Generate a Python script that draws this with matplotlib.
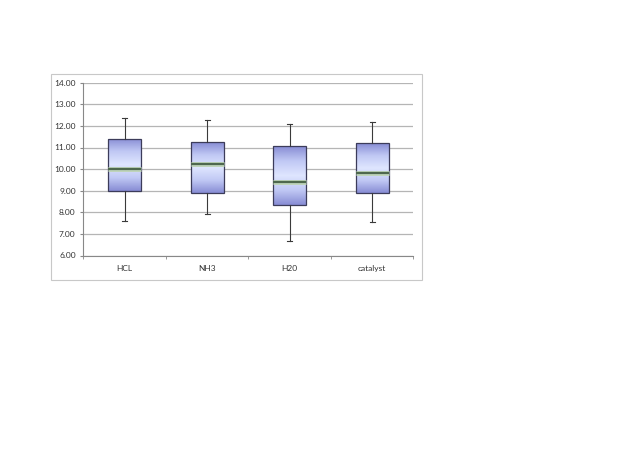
import numpy as np
import matplotlib
matplotlib.use("Agg")
import matplotlib.pyplot as plt
from matplotlib.patches import Rectangle
from matplotlib.colors import LinearSegmentedColormap
from matplotlib import patheffects

# values
categories = ["HCL", "NH3", "H20", "catalyst"]
whisker_low = [7.60, 7.92, 6.67, 7.54]
q1 = [8.97, 8.91, 8.34, 8.91]
median = [10.00, 10.25, 9.40, 9.82]
q3 = [11.38, 11.25, 11.06, 11.19]
whisker_high = [12.38, 12.26, 12.07, 12.20]

plt.rcParams['font.family'] = ['Lato', 'DejaVu Sans']

fig = plt.figure(figsize=(6.38, 4.51), dpi=100)
fig.patches.append(Rectangle((51 / 638, 1 - 280 / 451), 370.5 / 638, 206.3 / 451,
                             transform=fig.transFigure, fill=False,
                             edgecolor="#c8c8c8", linewidth=0.8))
ax = fig.add_axes([83.3 / 638, 1 - 255.5 / 451, 330 / 638, 172.8 / 451])

stats = []
for i, c in enumerate(categories):
    stats.append(dict(label=c, whislo=whisker_low[i], q1=q1[i], med=median[i],
                      q3=q3[i], whishi=whisker_high[i], fliers=[]))

pos = np.arange(1, len(categories) + 1)
bp = ax.bxp(stats, positions=pos, widths=0.4, patch_artist=True, capwidths=0.06,
            boxprops=dict(facecolor="none", edgecolor="#3c3c5a", linewidth=0.9),
            whiskerprops=dict(color="#3a3a3a", linewidth=0.8),
            capprops=dict(color="#3a3a3a", linewidth=0.8),
            medianprops=dict(color="#4e684e", linewidth=1.6,
                             path_effects=[patheffects.withStroke(linewidth=3.6, foreground="#bfd4bb")]),
            zorder=3)

cmap = LinearSegmentedColormap.from_list("boxgrad", ["#878cd4", "#c0c8f4", "#dfe6ff", "#c0c8f4", "#878cd4"])
grad = np.linspace(0, 1, 256).reshape(-1, 1)
for i, box in enumerate(bp["boxes"]):
    im = ax.imshow(grad, cmap=cmap, aspect="auto", origin="lower",
                   extent=[pos[i] - 0.2, pos[i] + 0.2, q1[i], q3[i]], zorder=2.5)
    im.set_clip_path(box)
    box.set_zorder(3)

ax.set_xlim(0.5, 4.5)
ax.set_ylim(6, 14)
ax.set_yticks(np.arange(6, 14.01, 1))
ax.set_yticklabels([f"{v:.2f}" for v in np.arange(6, 14.01, 1)])
ax.set_xticks(pos)
ax.set_xticklabels(categories)
ax.set_xticks(np.arange(0.5, 4.6, 1), minor=True)
ax.tick_params(axis="x", which="major", length=0, pad=7, labelsize=6, colors="#333333")
ax.tick_params(axis="x", which="minor", length=2.5, color="#888888")
ax.tick_params(axis="y", length=2.5, color="#888888", labelsize=6, labelcolor="#333333", pad=3)
ax.yaxis.grid(True, color="#b5b5b5", linewidth=0.9)
ax.set_axisbelow(True)
for s in ["top", "right"]:
    ax.spines[s].set_visible(False)
for s in ["left", "bottom"]:
    ax.spines[s].set_color("#888888")
    ax.spines[s].set_linewidth(0.8)

fig.savefig("out.png", dpi=100)
